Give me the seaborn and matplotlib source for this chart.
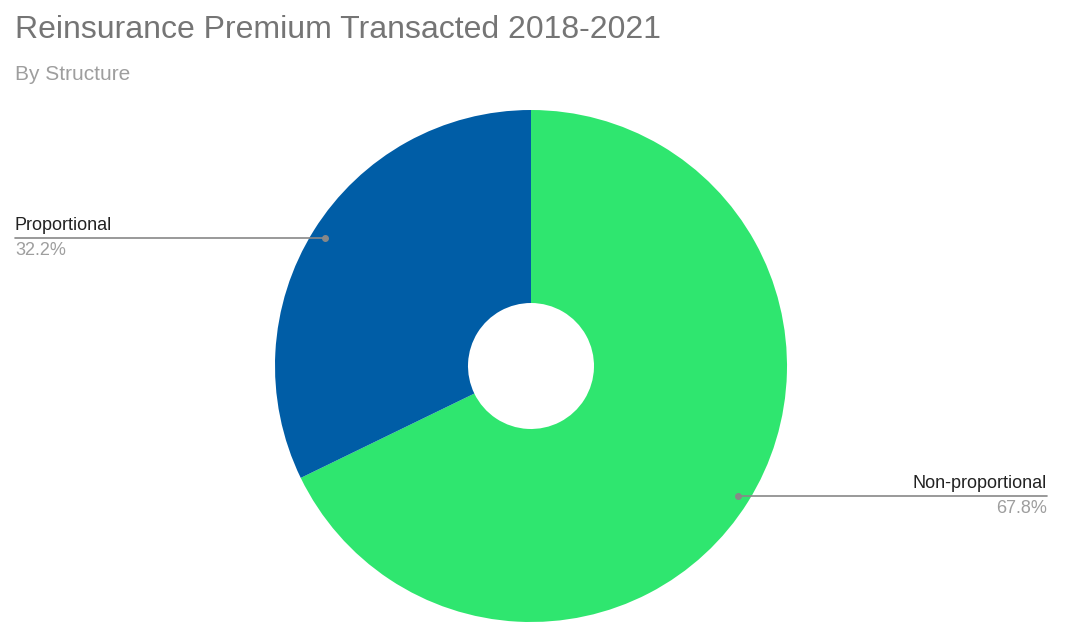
import matplotlib
matplotlib.use("Agg")
import matplotlib.pyplot as plt
import seaborn as sns

# data
labels = ["Non-proportional", "Proportional"]
shares = [67.8, 32.2]
colors = ["#2fe66f", "#005da6"]

sns.set_theme(style="white")
plt.rcParams['font.family'] = ['Liberation Sans', 'DejaVu Sans']

fig = plt.figure(figsize=(10.72, 6.4), dpi=100)
ax = fig.add_axes([0, 0, 1, 1])
ax.set_xlim(0, 1072)
ax.set_ylim(0, 640)
ax.set_aspect('equal')
ax.axis('off')

cx, cy, r = 531, 640 - 366, 256
ax.pie(shares, colors=colors, startangle=90, counterclock=False,
       center=(cx, cy), radius=r, frame=True,
       wedgeprops=dict(width=r - 63, linewidth=0))
ax.set_xlim(0, 1072)
ax.set_ylim(0, 640)
ax.axis('off')

# title
ax.text(15, 640 - 30, "Reinsurance Premium Transacted 2018-2021", fontsize=23,
        color="#757575", va='center', ha='left')
ax.text(15, 640 - 75, "By Structure", fontsize=15, color="#9e9e9e",
        va='center', ha='left')

# leader lines and labels
ly = 640 - 238
ax.plot([15, 325], [ly, ly], color="#888888", lw=1.2)
ax.plot([325], [ly], 'o', color="#888888", ms=4)
ax.text(15, ly + 4, labels[1], fontsize=13, color="#222222", va='bottom', ha='left')
ax.text(15, ly - 4, f"{shares[1]}%", fontsize=13, color="#9e9e9e", va='top', ha='left')

ry = 640 - 496
ax.plot([738, 1047], [ry, ry], color="#888888", lw=1.2)
ax.plot([738], [ry], 'o', color="#888888", ms=4)
ax.text(1047, ry + 4, labels[0], fontsize=13, color="#222222", va='bottom', ha='right')
ax.text(1047, ry - 4, f"{shares[0]}%", fontsize=13, color="#9e9e9e", va='top', ha='right')

fig.savefig("out.png", dpi=100, facecolor="white")
